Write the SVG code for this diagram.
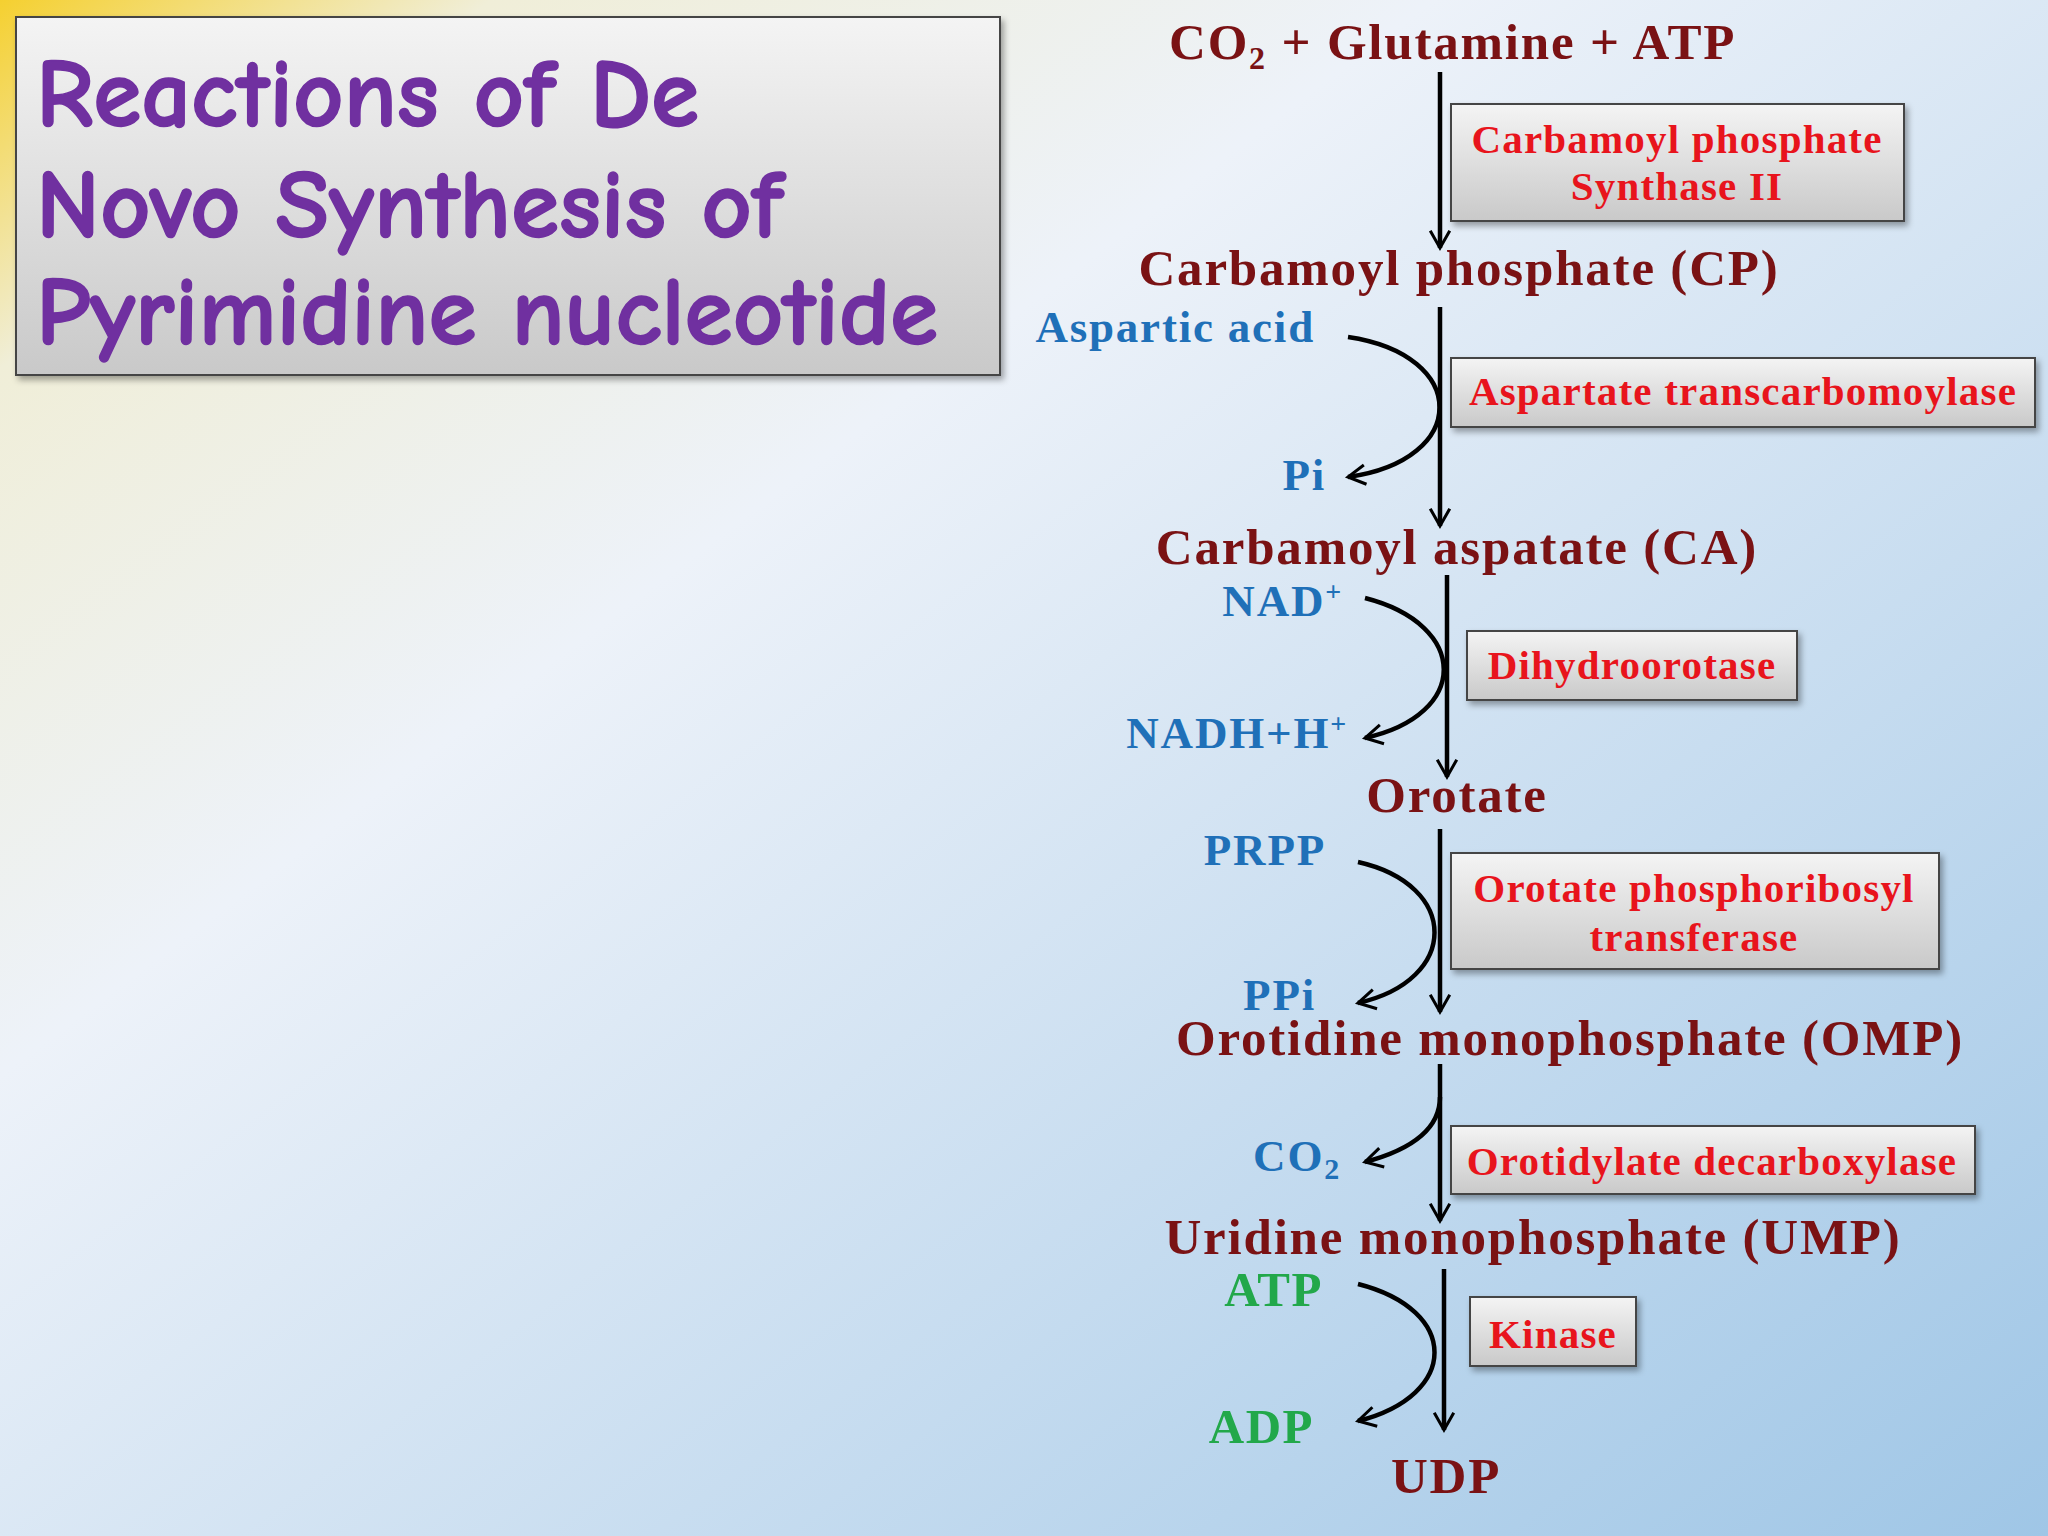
<svg xmlns="http://www.w3.org/2000/svg" width="2048" height="1536" viewBox="0 0 2048 1536">
<defs>
<linearGradient id="bg" x1="0" y1="0" x2="1" y2="1">
<stop offset="0" stop-color="#F5D030"/><stop offset="0.12" stop-color="#F0EED8"/><stop offset="0.35" stop-color="#EDF2F9"/><stop offset="1" stop-color="#9FC6E6"/>
</linearGradient>
<linearGradient id="box" x1="0" y1="0" x2="0" y2="1">
<stop offset="0" stop-color="#F4F4F4"/><stop offset="1" stop-color="#C9C9C9"/>
</linearGradient>
<filter id="sh" x="-5%" y="-5%" width="115%" height="125%"><feDropShadow dx="3" dy="4" stdDeviation="3" flood-color="#000" flood-opacity="0.35"/></filter>
<marker id="ah2" viewBox="0 0 12 12" refX="10" refY="6" markerWidth="26" markerHeight="26" orient="auto" markerUnits="userSpaceOnUse">
<path d="M2,1.5 L10,6 L2,10.5" fill="none" stroke="#000" stroke-width="1.4"/>
</marker>
</defs>
<style>
.m{font-family:"Liberation Serif","DejaVu Serif",serif;font-weight:bold;font-size:51px;letter-spacing:1.8px;fill:#7A1214}
.b{font-family:"Liberation Serif","DejaVu Serif",serif;font-weight:bold;font-size:45px;letter-spacing:1.8px;fill:#1F70B8}
.g{font-family:"Liberation Serif","DejaVu Serif",serif;font-weight:bold;font-size:49px;letter-spacing:1.5px;fill:#22A84A}
.e{font-family:"Liberation Serif","DejaVu Serif",serif;font-weight:bold;font-size:41px;letter-spacing:1.2px;fill:#E8141C;text-anchor:middle}
.bx{fill:url(#box);stroke:#444;stroke-width:2;filter:url(#sh)}
.c{fill:none;stroke:#000;stroke-width:4.5;marker-end:url(#ah2)}
.t{font-family:"Comic Neue","DejaVu Sans",sans-serif;font-weight:bold;font-size:98px;fill:#7030A0;stroke:#7030A0;stroke-width:1.5}
</style>
<rect width="2048" height="1536" fill="url(#bg)"/>
<g id="title">
<rect x="16" y="17" width="984" height="358" class="bx"/>
<text class="t" x="36" y="126">Reactions of De</text>
<text class="t" x="36" y="237">Novo Synthesis of</text>
<text class="t" x="36" y="344">Pyrimidine nucleotide</text>
</g>
<g id="connectors">
<path class="c" d="M1440,72 V248"/>
<path class="c" d="M1440,307 V526"/>
<path class="c" d="M1447,575 V777"/>
<path class="c" d="M1440,829 V1012"/>
<path class="c" d="M1440,1064 V1221"/>
<path class="c" d="M1444,1269 V1430"/>
<path class="c" d="M1348,337 C1470,355 1470,460 1348,477"/>
<path class="c" d="M1365,598 C1470,625 1470,715 1365,738"/>
<path class="c" d="M1358,862 C1460,885 1460,980 1358,1003"/>
<path class="c" d="M1440,1097 C1440,1130 1410,1150 1365,1162"/>
<path class="c" d="M1358,1284 C1460,1310 1460,1395 1358,1421"/>
</g>
<g id="n-top"><text class="m" x="1169" y="59">CO<tspan font-size="32" dy="10">2</tspan><tspan dy="-10"> +  Glutamine +  ATP</tspan></text></g>
<g id="enz1"><rect x="1451" y="104" width="453" height="117" class="bx"/><text class="e" x="1677" y="153">Carbamoyl phosphate</text><text class="e" x="1677" y="200">Synthase II</text></g>
<g id="n-cp"><text class="m" x="1459" y="285" text-anchor="middle">Carbamoyl phosphate (CP)</text></g>
<g id="n-asp"><text class="b" x="1315" y="342" text-anchor="end">Aspartic acid</text></g>
<g id="n-pi"><text class="b" x="1326" y="490" text-anchor="end">Pi</text></g>
<g id="enz2"><rect x="1451" y="358" width="584" height="69" class="bx"/><text class="e" x="1743" y="405">Aspartate transcarbomoylase</text></g>
<g id="n-ca"><text class="m" x="1457" y="564" text-anchor="middle">Carbamoyl aspatate (CA)</text></g>
<g id="n-nad"><text class="b" x="1343" y="616" text-anchor="end">NAD<tspan font-size="28" dy="-15">+</tspan></text></g>
<g id="n-nadh"><text class="b" x="1348" y="748" text-anchor="end">NADH+H<tspan font-size="28" dy="-15">+</tspan></text></g>
<g id="enz3"><rect x="1467" y="631" width="330" height="69" class="bx"/><text class="e" x="1632" y="679">Dihydroorotase</text></g>
<g id="n-oro"><text class="m" x="1457" y="812" text-anchor="middle">Orotate</text></g>
<g id="n-prpp"><text class="b" x="1326" y="865" text-anchor="end">PRPP</text></g>
<g id="n-ppi"><text class="b" x="1316" y="1010" text-anchor="end">PPi</text></g>
<g id="enz4"><rect x="1451" y="853" width="488" height="116" class="bx"/><text class="e" x="1694" y="902">Orotate phosphoribosyl</text><text class="e" x="1694" y="951">transferase</text></g>
<g id="n-omp"><text class="m" x="1570" y="1055" text-anchor="middle">Orotidine monophosphate (OMP)</text></g>
<g id="n-co2"><text class="b" x="1341" y="1171" text-anchor="end">CO<tspan font-size="30" dy="8">2</tspan></text></g>
<g id="enz5"><rect x="1451" y="1126" width="524" height="68" class="bx"/><text class="e" x="1712" y="1175">Orotidylate decarboxylase</text></g>
<g id="n-ump"><text class="m" x="1533" y="1254" text-anchor="middle">Uridine monophosphate (UMP)</text></g>
<g id="n-atp"><text class="g" x="1323" y="1306" text-anchor="end">ATP</text></g>
<g id="n-adp"><text class="g" x="1314" y="1443" text-anchor="end">ADP</text></g>
<g id="enz6"><rect x="1470" y="1297" width="166" height="69" class="bx"/><text class="e" x="1553" y="1348">Kinase</text></g>
<g id="n-udp"><text class="m" x="1446" y="1493" text-anchor="middle">UDP</text></g>
</svg>
